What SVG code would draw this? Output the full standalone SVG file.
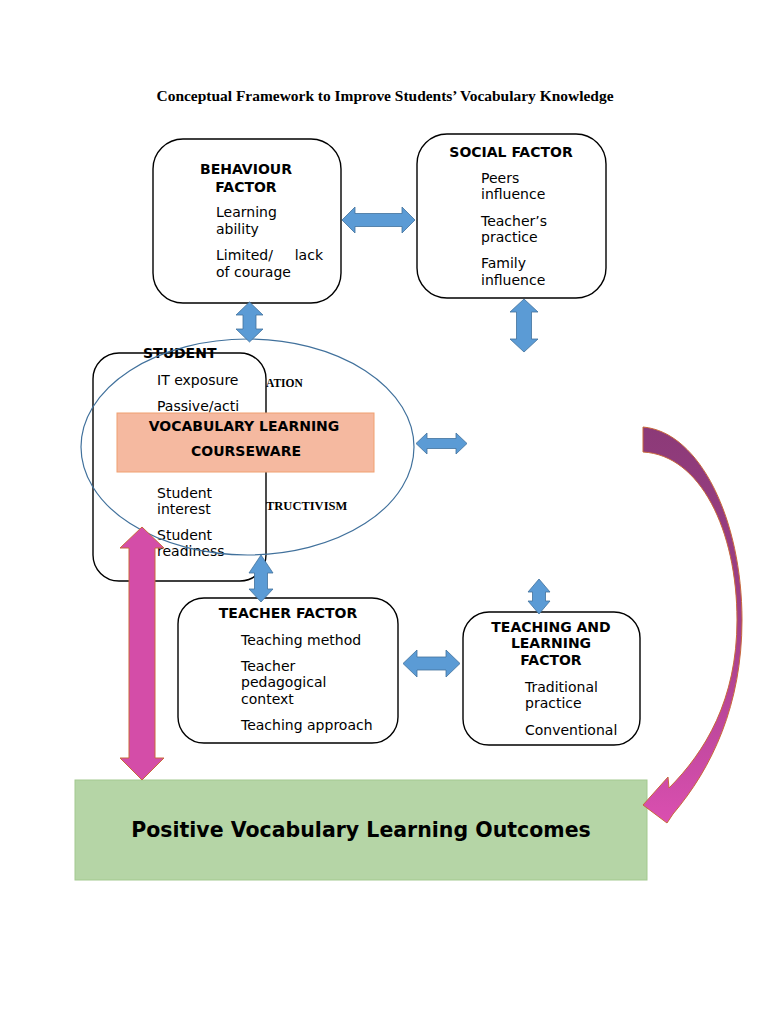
<svg xmlns="http://www.w3.org/2000/svg" width="768" height="1024" viewBox="0 0 768 1024">
<defs>
<linearGradient id="curveGrad" x1="0" y1="427" x2="0" y2="823" gradientUnits="userSpaceOnUse">
<stop offset="0" stop-color="#8C3A78"/>
<stop offset="0.45" stop-color="#9E3F86"/>
<stop offset="1" stop-color="#DA4FB0"/>
</linearGradient>
<style>
.box{fill:#fff;stroke:#000;stroke-width:1.4}
.hd{font-family:"DejaVu Sans",Verdana,sans-serif;font-weight:bold;font-size:14px;fill:#000}
.it{font-family:"DejaVu Sans",Verdana,sans-serif;font-size:14px;fill:#000}
.sf{font-family:"Liberation Serif","Times New Roman",serif;font-weight:bold;fill:#000}
.blue{fill:#5B9BD5;stroke:#41719C;stroke-width:0.8}
.pink{fill:#D44DA8;stroke:#C8683A;stroke-width:1}
</style>
</defs>
<rect width="768" height="1024" fill="#fff"/>
<text class="sf" x="385" y="101" font-size="14" text-anchor="middle" textLength="457" lengthAdjust="spacingAndGlyphs">Conceptual Framework to Improve Students’ Vocabulary Knowledge</text>

<g id="behaviour">
<rect class="box" x="153" y="139" width="188" height="164" rx="30"/>
<text class="hd" x="246" y="174" text-anchor="middle">BEHAVIOUR</text>
<text class="hd" x="246" y="192" text-anchor="middle">FACTOR</text>
<text class="it" x="216" y="217">Learning</text>
<text class="it" x="216" y="234">ability</text>
<text class="it" x="216" y="260">Limited/</text>
<text class="it" x="323" y="260" text-anchor="end">lack</text>
<text class="it" x="216" y="277">of courage</text>
</g>

<g id="social">
<rect class="box" x="417" y="134" width="189" height="164" rx="30"/>
<text class="hd" x="511" y="157" text-anchor="middle">SOCIAL FACTOR</text>
<text class="it" x="481" y="183">Peers</text>
<text class="it" x="481" y="199">influence</text>
<text class="it" x="481" y="226">Teacher’s</text>
<text class="it" x="481" y="242">practice</text>
<text class="it" x="481" y="268">Family</text>
<text class="it" x="481" y="285">influence</text>
</g>

<g id="theories">
<text class="sf" x="266" y="387" font-size="11.5">ATION</text>
<text class="sf" x="266" y="510" font-size="12.5">TRUCTIVISM</text>
</g>

<g id="student">
<rect class="box" x="93" y="353" width="173" height="228" rx="26"/>
<text class="hd" x="143" y="358">STUDENT</text>
<text class="it" x="157" y="385">IT exposure</text>
<text class="it" x="157" y="411">Passive/acti</text>
<text class="it" x="157" y="498">Student</text>
<text class="it" x="157" y="514">interest</text>
<text class="it" x="157" y="540">Student</text>
<text class="it" x="157" y="556">readiness</text>
</g>

<g id="ellipse">
<ellipse cx="247.5" cy="447" rx="166.5" ry="108" fill="none" stroke="#41719C" stroke-width="1.2"/>
</g>

<g id="courseware">
<rect x="117" y="413" width="257" height="59" fill="#F5B9A0" stroke="#F0A070" stroke-width="1"/>
<text class="hd" x="244" y="431" text-anchor="middle">VOCABULARY LEARNING</text>
<text class="hd" x="246" y="456" text-anchor="middle">COURSEWARE</text>
</g>

<g id="teacher">
<rect class="box" x="178" y="598" width="220" height="145" rx="26"/>
<text class="hd" x="288" y="618" text-anchor="middle">TEACHER FACTOR</text>
<text class="it" x="241" y="645">Teaching method</text>
<text class="it" x="241" y="671">Teacher</text>
<text class="it" x="241" y="687">pedagogical</text>
<text class="it" x="241" y="704">context</text>
<text class="it" x="241" y="730">Teaching approach</text>
</g>

<g id="teaching-learning">
<rect class="box" x="463" y="612" width="177" height="133" rx="26"/>
<text class="hd" x="551" y="632" text-anchor="middle">TEACHING AND</text>
<text class="hd" x="551" y="648" text-anchor="middle">LEARNING</text>
<text class="hd" x="551" y="665" text-anchor="middle">FACTOR</text>
<text class="it" x="525" y="692">Traditional</text>
<text class="it" x="525" y="708">practice</text>
<text class="it" x="525" y="735">Conventional</text>
</g>

<g id="outcomes">
<rect x="75" y="780" width="572" height="100" fill="#B5D5A6" stroke="#A3C98F" stroke-width="1"/>
<text x="361" y="837" text-anchor="middle" font-family="DejaVu Sans,Verdana,sans-serif" font-weight="bold" font-size="20.5">Positive Vocabulary Learning Outcomes</text>
</g>

<g id="connectors">
<path class="blue" d="M342,220 L355,207 L355,213.5 L402,213.5 L402,207 L415,220 L402,233 L402,226.5 L355,226.5 L355,233 Z"/>
<path class="blue" d="M249.5,302 L263,315 L256,315 L256,329 L263,329 L249.5,342 L236,329 L243,329 L243,315 L236,315 Z"/>
<path class="blue" d="M524,299 L538,312 L531.5,312 L531.5,339 L538,339 L524,352 L510,339 L516.5,339 L516.5,312 L510,312 Z"/>
<path class="blue" d="M416,443.5 L427,433 L427,438.5 L456,438.5 L456,433 L467,443.5 L456,454 L456,448.5 L427,448.5 L427,454 Z"/>
<path class="blue" d="M261,555 L273,573 L267.5,573 L267.5,589 L273,589 L261,602 L249,589 L254.5,589 L254.5,573 L249,573 Z"/>
<path class="blue" d="M403,663.5 L417,650 L417,657 L446,657 L446,650 L460,663.5 L446,677 L446,670 L417,670 L417,677 Z"/>
<path class="blue" d="M539,579 L550,592 L545.5,592 L545.5,601 L550,601 L539,614 L528,601 L532.5,601 L532.5,592 L528,592 Z"/>
<path class="pink" d="M142,527 L164,548 L155,548 L155,758 L164,758 L142,780 L120,758 L129,758 L129,548 L120,548 Z"/>
<path fill="url(#curveGrad)" stroke="#C8683A" stroke-width="1" d="M643,427 C700,432 742,520 742,620 C742,705 712,768 673,814 L667,823 L643,805 L668,777 L669,788 C705,752 737,700 737,620 C737,530 700,455 643,452 Z"/>
</g>
</svg>
